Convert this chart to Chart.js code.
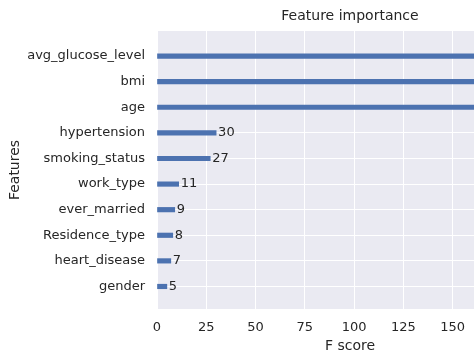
<!DOCTYPE html>
<html>
<head>
<meta charset="utf-8">
<script src="https://cdn.jsdelivr.net/npm/chart.js@4"></script>
<style>
  html, body { margin: 0; padding: 0; background: #ffffff; overflow: hidden; width: 474px; height: 355px; }
  #wrap { width: 600px; height: 355px; }
</style>
</head>
<body>
<div id="wrap"><canvas id="c" width="600" height="355"></canvas></div>
<script>
// Data (top to bottom, as displayed)
const features = ["avg_glucose_level", "bmi", "age", "hypertension", "smoking_status",
                  "work_type", "ever_married", "Residence_type", "heart_disease", "gender"];
const fScores = [178, 170, 165, 30, 27, 11, 9, 8, 7, 5];
const xTicks = [0, 25, 50, 75, 100, 125, 150, 175];
const xMax = Math.max(...fScores) * 1.1;

const FONT = "'DejaVu Sans', 'Liberation Sans', sans-serif";
const TXT = '#262626';

const bgPlugin = {
  id: 'plotBg',
  beforeDraw(chart) {
    const {ctx, chartArea: a} = chart;
    ctx.save();
    ctx.fillStyle = '#EAEAF2';
    ctx.fillRect(a.left, a.top, a.right - a.left, a.bottom - a.top);
    ctx.restore();
  }
};

const valueLabels = {
  id: 'valueLabels',
  afterDatasetsDraw(chart) {
    const {ctx} = chart;
    const xs = chart.scales.x, ys = chart.scales.y;
    ctx.save();
    ctx.font = "13px " + FONT;
    ctx.fillStyle = TXT;
    ctx.textAlign = 'left';
    ctx.textBaseline = 'middle';
    fScores.forEach((v, i) => {
      ctx.fillText(String(v), xs.getPixelForValue(v + 1), ys.getPixelForValue(i));
    });
    ctx.restore();
  }
};

new Chart(document.getElementById('c'), {
  type: 'bar',
  data: {
    datasets: [{
      data: fScores.map((v, i) => ({x: v, y: i})),
      backgroundColor: '#4C72B0',
      borderWidth: 0,
      barThickness: 4.5
    }]
  },
  options: {
    indexAxis: 'y',
    responsive: false,
    animation: false,
    events: [],
    layout: { padding: { left: 0, right: 57, top: 0, bottom: 0 } },
    plugins: {
      legend: { display: false },
      tooltip: { enabled: false },
      title: {
        display: true,
        text: 'Feature importance',
        fullSize: false,
        color: TXT,
        font: { family: FONT, size: 14, weight: 'normal' },
        padding: { top: 8, bottom: 6.2 }
      }
    },
    scales: {
      x: {
        type: 'linear',
        min: 0,
        max: xMax,
        offset: false,
        afterBuildTicks(s) { s.ticks = xTicks.map(v => ({value: v})); },
        afterFit(s) { s.height = 46; },
        border: { display: false },
        grid: { color: '#ffffff', lineWidth: 1, drawTicks: false, offset: false },
        ticks: { color: TXT, font: { family: FONT, size: 13 }, padding: 11, maxRotation: 0 },
        title: { display: true, text: 'F score', color: TXT, font: { family: FONT, size: 14 }, padding: { top: 0, bottom: 0 } }
      },
      y: {
        type: 'linear',
        reverse: true,
        offset: false,
        min: -0.98,
        max: features.length - 1 + 0.88,
        afterBuildTicks(s) { s.ticks = features.map((f, i) => ({value: i})); },
        afterFit(s) { s.width = 157; },
        border: { display: false },
        grid: { color: '#ffffff', lineWidth: 1, drawTicks: false, offset: false },
        ticks: {
          color: TXT,
          font: { family: FONT, size: 13 },
          padding: 12,
          callback: (v) => features[v]
        },
        title: { display: true, text: 'Features', color: TXT, font: { family: FONT, size: 14 }, padding: { top: 6.5, bottom: 0 } }
      }
    }
  },
  plugins: [bgPlugin, valueLabels]
});
</script>
</body>
</html>
